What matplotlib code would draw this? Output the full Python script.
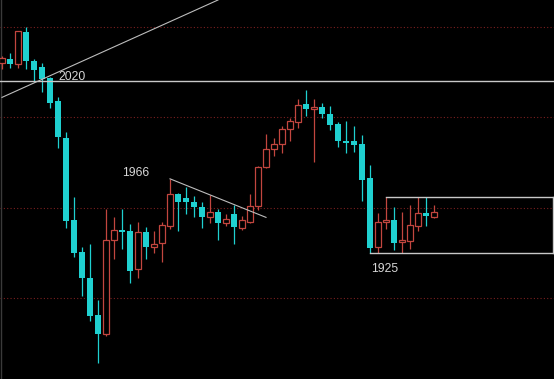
import matplotlib
matplotlib.use("Agg")
import matplotlib.pyplot as plt
from matplotlib.patches import Rectangle

# ---- data (OHLC) ----
opens = [2030.0, 2032.2, 2029.4, 2047.1, 2031.1, 2027.8, 2021.7, 2009.0, 1988.6, 1943.3,
         1925.6, 1911.2, 1890.8, 1880.3, 1932.2, 1937.7, 1937.2, 1916.2, 1936.6, 1928.3,
         1930.5, 1939.9, 1957.6, 1955.4, 1953.2, 1950.4, 1944.9, 1947.7, 1941.6, 1946.6,
         1938.8, 1942.1, 1951.0, 1972.5, 1982.5, 1985.2, 1993.5, 1997.4, 2007.3, 2004.6,
         2005.7, 2001.8, 1996.3, 1986.9, 1986.9, 1985.2, 1966.5, 1928.3, 1942.1, 1943.3,
         1931.1, 1931.6, 1939.9, 1947.1, 1944.9]
highs = [2033.9, 2035.5, 2047.7, 2049.9, 2032.2, 2030.0, 2022.3, 2011.2, 1991.9, 1956.0,
         1928.3, 1930.0, 1899.1, 1949.3, 1944.9, 1949.3, 1941.0, 1942.1, 1939.4, 1937.2,
         1942.1, 1966.0, 1958.2, 1961.5, 1956.5, 1953.2, 1957.1, 1949.3, 1946.6, 1951.5,
         1945.5, 1957.6, 1973.1, 1990.8, 1988.6, 1995.2, 1999.6, 2010.1, 2015.1, 2010.1,
         2007.9, 2006.2, 1997.4, 1997.9, 1995.2, 1990.2, 1973.6, 1947.1, 1956.0, 1950.4,
         1947.7, 1951.5, 1956.0, 1956.0, 1951.5]
lows = [2026.7, 2027.2, 2027.2, 2026.7, 2019.5, 2014.0, 2005.1, 1983.0, 1938.8, 1922.8,
        1901.3, 1887.5, 1864.2, 1879.2, 1921.7, 1927.2, 1908.4, 1911.2, 1921.7, 1925.0,
        1920.0, 1938.3, 1937.2, 1946.6, 1944.9, 1938.8, 1941.6, 1932.2, 1939.9, 1930.0,
        1937.7, 1941.6, 1948.8, 1972.0, 1978.6, 1980.3, 1986.9, 1994.1, 2000.7, 1975.3,
        1999.6, 1993.0, 1983.6, 1980.3, 1980.8, 1953.8, 1925.0, 1925.0, 1938.3, 1926.7,
        1925.0, 1927.2, 1937.2, 1939.9, 1944.4]
closes = [2032.8, 2029.4, 2047.7, 2031.1, 2026.1, 2021.2, 2007.9, 1989.1, 1942.7, 1925.0,
          1911.2, 1890.2, 1880.3, 1932.2, 1937.7, 1937.2, 1915.1, 1936.6, 1928.3, 1930.0,
          1940.5, 1957.6, 1953.2, 1953.2, 1950.4, 1944.9, 1947.7, 1941.6, 1943.8, 1939.4,
          1943.3, 1951.0, 1972.5, 1982.5, 1985.2, 1993.5, 1997.9, 2006.8, 2004.6, 2005.4,
          2001.8, 1995.7, 1986.9, 1986.6, 1984.7, 1965.4, 1927.8, 1942.1, 1943.3, 1930.5,
          1932.2, 1940.5, 1947.1, 1945.5, 1947.7]

grid_levels = [2050, 2000, 1950, 1900]
level_2020 = 2020
trend_start = (0, 2011.0)
trend_end = (27, 2064.8)
wedge_start = (21, 1966.0)
wedge_end = (33, 1944.7)
box_top = 1956.0
box_bottom = 1925.0
box_top_start = 48
box_bottom_start = 46
labels = [("2020", 7.0, 2020.6), ("1966", 15.0, 1967.6), ("1925", 46.1, 1914.5)]

UP = "#c2463f"
DOWN = "#1fd0d0"
LINE = "#c8c8c8"
BG = "#000000"

fig = plt.figure(figsize=(5.54, 3.79), dpi=100, facecolor=BG)
ax = fig.add_axes([0, 0, 1, 1], facecolor=BG)
ax.set_xlim(-0.25, 69.0)
ax.set_ylim(1855.4, 2064.8)
ax.axis("off")

for g in grid_levels:
    ax.axhline(g, color="#7a1f1f", lw=0.8, ls=(0, (1, 2)), zorder=1)

for i, (o, h, l, c) in enumerate(zip(opens, highs, lows, closes)):
    if c >= o:
        top, bot = c, o
        body_h = max(top - bot, 1.2)
        ax.plot([i, i], [top, h], color=UP, lw=0.9, zorder=3, solid_capstyle="butt")
        ax.plot([i, i], [l, bot], color=UP, lw=0.9, zorder=3, solid_capstyle="butt")
        ax.add_patch(Rectangle((i - 0.34, bot), 0.68, body_h, facecolor=BG,
                               edgecolor=UP, lw=0.9, zorder=4))
    else:
        top, bot = o, c
        body_h = max(top - bot, 1.0)
        ax.plot([i, i], [l, h], color=DOWN, lw=0.9, zorder=3, solid_capstyle="butt")
        ax.add_patch(Rectangle((i - 0.38, top - body_h), 0.76, body_h, facecolor=DOWN,
                               edgecolor="none", lw=0, zorder=4))

# annotation lines
ax.axhline(level_2020, color=LINE, lw=1.0, zorder=5)
ax.plot([trend_start[0], trend_end[0]], [trend_start[1], trend_end[1]],
        color="#bdbdbd", lw=0.8, zorder=5)
ax.plot([wedge_start[0], wedge_end[0]], [wedge_start[1], wedge_end[1]],
        color="#bdbdbd", lw=0.8, zorder=5)
xr = 68.9
ax.plot([box_top_start, xr], [box_top, box_top], color=LINE, lw=1.0, zorder=5)
ax.plot([box_bottom_start, xr], [box_bottom, box_bottom], color=LINE, lw=1.0, zorder=5)
ax.plot([xr, xr], [box_bottom, box_top], color=LINE, lw=1.0, zorder=5)
ax.axvline(-0.15, color="#3a3a3a", lw=1.0, zorder=2)

for txt, x, y in labels:
    ax.text(x, y, txt, color="#d6d6d6", fontsize=8.8, family="Liberation Sans",
            ha="left", va="baseline", zorder=6)

fig.savefig("out.png", dpi=100, facecolor=BG)
